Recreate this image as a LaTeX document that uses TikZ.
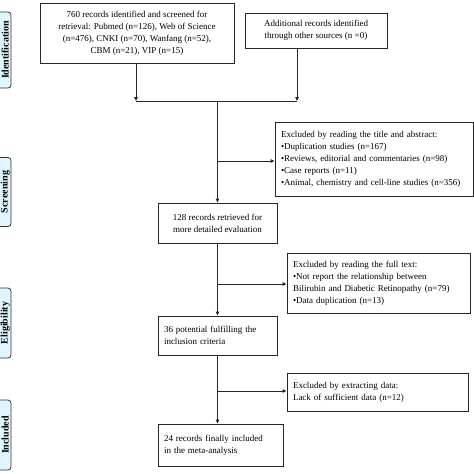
\documentclass[tikz,border=0pt]{standalone}
\usepackage{fontspec}
\setmainfont{Liberation Serif}
\usetikzlibrary{arrows.meta}
\begin{document}
\begin{tikzpicture}[x=1pt,y=-1pt,
  box/.style={draw=black!85, line width=0.8pt, inner sep=0pt, font=\fontsize{9}{12}\selectfont},
  cbox/.style={box, align=center},
  lbox/.style={box, align=left},
  stage/.style={draw=black!80, line width=0.8pt, fill=cyan!12!white, rounded corners=3pt, rotate=90, minimum height=26pt, inner sep=0pt},
  stagetext/.style={rotate=90, inner sep=0pt, font=\fontsize{10}{10}\selectfont\bfseries},
  conn/.style={line width=1pt, black!85},
  arr/.style={conn, -{Triangle[length=4pt,width=3.5pt]}}
]
\useasboundingbox (0,0) rectangle (474,474);
% stage labels
\node[stage, minimum width=76pt] (s1) at (-2,50) {};
\node[stagetext] (t1) at (5.2,50) {Identification};
\node[stage, minimum width=69pt] (s2) at (-2,192) {};
\node[stagetext] (t2) at (5.2,192) {Screening};
\node[stage, minimum width=70pt] (s3) at (-2,323) {};
\node[stagetext] (t3) at (5.2,323) {Eligibility};
\node[stage, minimum width=70pt] (s4) at (-2,435) {};
\node[stagetext] (t4) at (5.2,435) {Included};
% boxes
\node[cbox, minimum width=194pt, minimum height=60pt] (b1) at (137,33) {760 records identified and screened for\\retrieval: Pubmed (n=126), Web of Science\\(n=476), CNKI (n=70), Wanfang (n=52),\\CBM (n=21), VIP (n=15)};
\node[cbox, minimum width=142pt, minimum height=35pt] (b2) at (316,30.5) {Additional records identified\\through other sources (n =0)};
\node[lbox, minimum width=198pt, minimum height=74pt, text width=186pt] (e1) at (374,159) {Excluded by reading the title and abstract:\\•Duplication studies (n=167)\\•Reviews, editorial and commentaries (n=98)\\•Case reports (n=11)\\•Animal, chemistry and cell-line studies (n=356)};
\node[cbox, minimum width=119pt, minimum height=40pt] (r1) at (217.5,223) {128 records retrieved for\\more detailed evaluation};
\node[lbox, minimum width=183pt, minimum height=60pt, text width=171pt] (e2) at (378.5,283) {Excluded by reading the full text:\\•Not report the relationship between\\Bilirubin and Diabetic Retinopathy (n=79)\\•Data duplication (n=13)};
\node[lbox, minimum width=119pt, minimum height=39pt, text width=107pt] (r2) at (217.5,335.5) {36 potential fulfilling the\\inclusion criteria};
\node[lbox, minimum width=181pt, minimum height=38pt, text width=169pt] (e3) at (377.5,392) {Excluded by extracting data:\\Lack of sufficient data (n=12)};
\node[lbox, minimum width=125pt, minimum height=42pt, text width=113pt] (r3) at (220.5,445) {24 records finally included\\in the meta-analysis};
% connectors
\coordinate (j1) at (136,101);
\coordinate (j2) at (297,101);
\coordinate (j3) at (217.5,101);
\coordinate (k1) at (217.5,161);
\coordinate (k2) at (217.5,284);
\coordinate (k3) at (217.5,391);
\draw[arr] (b1.south -| j1) -- (j1);
\draw[arr] (b2.south -| j2) -- (j2);
\draw[conn] (j1) -- (j2);
\draw[arr] (j3) -- (r1.north);
\draw[arr] (k1) -- (k1 -| e1.west);
\draw[arr] (r1.south) -- (r2.north);
\draw[arr] (k2) -- (k2 -| e2.west);
\draw[arr] (r2.south) -- (r2.south |- r3.north);
\draw[arr] (k3) -- (k3 -| e3.west);
\end{tikzpicture}
\end{document}
